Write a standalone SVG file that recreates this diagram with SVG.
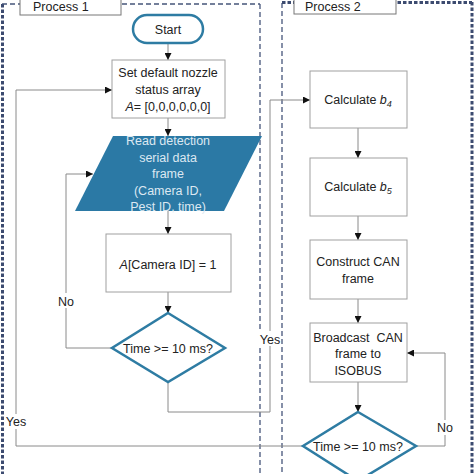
<svg xmlns="http://www.w3.org/2000/svg" width="474" height="474" viewBox="0 0 474 474">
<defs>
<marker id="arr" viewBox="0 0 10 10" refX="10" refY="5" markerWidth="7" markerHeight="7" markerUnits="userSpaceOnUse" orient="auto">
<path d="M0,0 L10,5 L0,10 z" fill="#111"/>
</marker>
<style>
text{font-family:"Liberation Sans",Arial,sans-serif;font-size:12.5px;fill:#222;text-anchor:middle}
.box{fill:#fff;stroke:#a0a0a0;stroke-width:1}
.lbl{fill:#fff;stroke:#777;stroke-width:1}
.dec{fill:#fff;stroke:#2e7ca3;stroke-width:2.5}
.ln{fill:none;stroke:#8a8a8a;stroke-width:1}
.thin{fill:none;stroke:#45557a;stroke-width:1.3;stroke-dasharray:5 3}
.thick{fill:none;stroke:#3c4b70;stroke-width:3;stroke-dasharray:3.5 2}
.it{font-style:italic}
.light{fill:#dce8f2}
</style>
</defs>
<rect width="474" height="474" fill="#fff"/>
<g id="process1-frame">
<line class="thick" x1="2.5" y1="4" x2="2.5" y2="474"/>
<line class="thin" x1="2" y1="4" x2="260" y2="4"/>
<line class="thin" x1="260" y1="4" x2="260" y2="474"/>
<rect class="lbl" x="20" y="-6" width="101" height="21"/>
<text x="33" y="11" style="text-anchor:start;font-size:12.5px">Process 1</text>
</g>
<g id="process2-frame">
<line class="thin" x1="282" y1="3" x2="282" y2="474"/>
<line class="thick" x1="282" y1="2.5" x2="472" y2="2.5"/>
<line class="thick" x1="472" y1="2" x2="472" y2="474"/>
<rect class="lbl" x="294" y="-6" width="102" height="20"/>
<text x="305" y="10.5" style="text-anchor:start;font-size:12.5px">Process 2</text>
</g>
<g id="connectors">
<line class="ln" x1="168" y1="43" x2="168" y2="60" marker-end="url(#arr)"/>
<line class="ln" x1="168" y1="118" x2="168" y2="136" marker-end="url(#arr)"/>
<line class="ln" x1="168" y1="211" x2="168" y2="234" marker-end="url(#arr)"/>
<line class="ln" x1="168" y1="292" x2="168" y2="313" marker-end="url(#arr)"/>
<polyline class="ln" points="112,348 66,348 66,174 93,174" marker-end="url(#arr)"/>
<polyline class="ln" points="168,382 168,412 270,412 270,100 310,100" marker-end="url(#arr)"/>
<line class="ln" x1="358" y1="128" x2="358" y2="158" marker-end="url(#arr)"/>
<line class="ln" x1="358" y1="216" x2="358" y2="240" marker-end="url(#arr)"/>
<line class="ln" x1="358" y1="299" x2="358" y2="323" marker-end="url(#arr)"/>
<line class="ln" x1="358" y1="382" x2="358" y2="412" marker-end="url(#arr)"/>
<polyline class="ln" points="416,446 445,446 445,353 407,353" marker-end="url(#arr)"/>
<polyline class="ln" points="303,446 16,446 16,90 112,90" marker-end="url(#arr)"/>
<rect x="56" y="293" width="20" height="15" fill="#fff"/>
<text x="66" y="306">No</text>
<rect x="259" y="331" width="22" height="15" fill="#fff"/>
<text x="270" y="344">Yes</text>
<rect x="435" y="420" width="20" height="15" fill="#fff"/>
<text x="445" y="432">No</text>
<rect x="6" y="414" width="20" height="15" fill="#fff"/>
<text x="16" y="426">Yes</text>
</g>
<g id="start">
<rect x="133" y="15" width="70" height="28" rx="14" fill="#fff" stroke="#2e7ca3" stroke-width="2.5"/>
<text x="168" y="33.5">Start</text>
</g>
<g id="set-default">
<rect class="box" x="112" y="60" width="113" height="58"/>
<text x="168" y="77">Set default nozzle</text>
<text x="168" y="94">status array</text>
<text x="168" y="111"><tspan class="it">A</tspan>= [0,0,0,0,0,0]</text>
</g>
<g id="read-serial">
<polygon points="113,136 262,136 224,211 75,211" fill="#2b79a5"/>
<text class="light" x="168" y="145">Read detection</text>
<text class="light" x="168" y="162">serial data</text>
<text class="light" x="168" y="178">frame</text>
<text class="light" x="168" y="195">(Camera ID,</text>
<text class="light" x="168" y="211">Pest ID, time)</text>
</g>
<g id="set-camera">
<rect class="box" x="106" y="234" width="125" height="58"/>
<text x="168" y="269"><tspan class="it">A</tspan>[Camera ID] = 1</text>
</g>
<g id="decision1">
<polygon class="dec" points="168,313 225,348 168,382 112,348"/>
<text x="168" y="352.5">Time &gt;= 10 ms?</text>
</g>
<g id="calc-b4">
<rect class="box" x="310" y="71" width="97" height="57"/>
<text x="358" y="104">Calculate <tspan class="it">b</tspan><tspan class="it" font-size="9" dy="3">4</tspan></text>
</g>
<g id="calc-b5">
<rect class="box" x="310" y="158" width="97" height="58"/>
<text x="358" y="191">Calculate <tspan class="it">b</tspan><tspan class="it" font-size="9" dy="3">5</tspan></text>
</g>
<g id="construct-can">
<rect class="box" x="310" y="240" width="97" height="59"/>
<text x="358" y="266">Construct CAN</text>
<text x="358" y="283">frame</text>
</g>
<g id="broadcast">
<rect class="box" x="310" y="323" width="97" height="59"/>
<text x="358" y="341.5" xml:space="preserve">Broadcast  CAN</text>
<text x="358" y="358">frame to</text>
<text x="358" y="374.5">ISOBUS</text>
</g>
<g id="decision2">
<polygon class="dec" points="358,412 416,446 358,481 303,446"/>
<text x="358" y="450.5">Time &gt;= 10 ms?</text>
</g>
</svg>
